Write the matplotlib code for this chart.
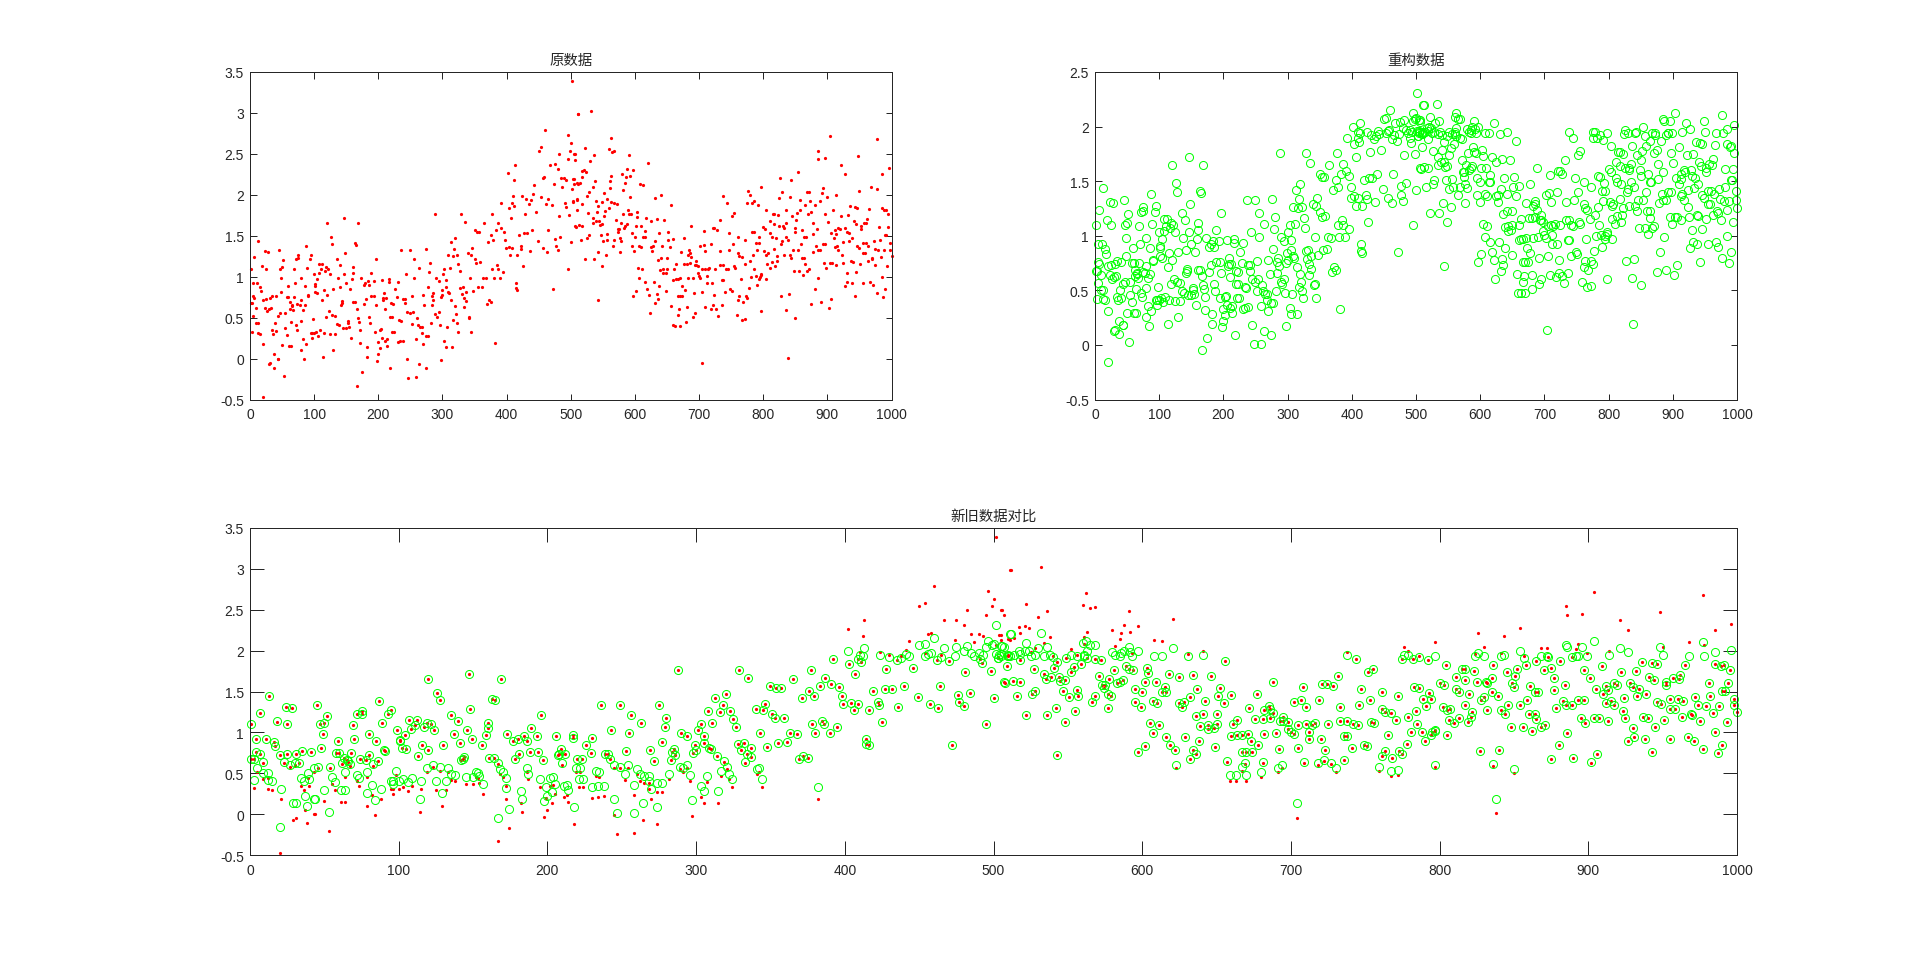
import matplotlib
matplotlib.use('Agg')
import matplotlib.pyplot as plt

plt.rcParams['font.family'] = ['Liberation Sans', 'Noto Sans CJK SC', 'DejaVu Sans']

# values, same order in all three lists
idx = [
1,1,3,3,4,4,7,5,9,12,
7,11,13,16,17,12,15,9,18,20,
20,21,24,25,28,23,25,27,29,31,
30,33,31,35,34,36,37,38,39,41,
40,43,44,43,46,45,47,48,49,50,
52,50,53,54,55,57,58,59,60,62,
61,64,63,65,66,64,67,68,69,70,
72,75,75,72,73,74,78,80,79,79,
80,82,83,84,85,86,87,88,89,90,
91,93,95,95,96,96,98,100,99,101,
101,103,104,102,106,105,107,108,109,111,
112,113,114,115,116,117,119,120,119,120,
122,123,125,124,126,128,128,129,130,132,
133,135,135,137,138,140,141,142,143,144,
146,147,148,149,145,150,152,153,154,156,
157,159,160,160,161,163,165,164,167,169,
167,168,170,172,172,174,173,177,178,180,
181,182,183,184,186,186,187,188,189,193,
194,195,196,197,198,199,200,202,203,204,
205,206,207,208,209,210,211,212,213,214,
218,217,217,219,220,222,221,223,224,226,
229,230,230,233,234,235,238,236,239,241,
242,243,245,247,245,249,249,252,254,253,
255,256,258,258,260,262,263,264,265,268,
269,268,270,272,274,275,274,277,277,279,
280,282,283,284,285,286,288,289,290,291,
294,294,296,297,298,299,300,301,303,303,
305,305,305,307,308,309,310,311,313,314,
315,316,317,318,320,319,321,322,323,325,
327,324,328,329,330,332,333,335,334,337,
337,340,341,342,343,344,345,346,348,350,
351,353,354,355,357,359,361,363,365,368,
369,371,372,375,376,377,378,379,380,383,
382,385,386,387,390,391,392,395,396,398,
399,402,403,404,406,407,409,409,410,411,
412,413,414,414,416,416,419,422,423,424,
425,427,428,430,432,435,436,438,441,443,
440,446,449,450,454,454,456,458,457,460,
462,463,464,467,465,470,472,474,475,476,
477,480,480,482,484,481,485,487,490,491,
492,493,495,495,496,499,498,500,500,502,
502,503,505,506,507,508,509,511,510,511,
512,532,562,560,565,568,522,536,530,505,
504,518,521,517,524,510,505,514,534,538,
528,525,552,561,563,561,580,585,586,592,
588,591,597,582,593,621,608,613,631,641,
656,503,510,518,527,540,549,556,559,563,
568,572,543,541,534,535,539,544,548,545,
554,552,571,581,578,589,591,594,585,583,
587,573,575,574,528,526,516,507,513,518,
547,556,557,551,568,577,579,566,595,600,
604,603,602,609,613,616,615,618,625,634,
646,637,652,651,660,642,632,625,628,627,
655,595,599,607,610,542,555,577,536,522,
548,543,605,611,597,602,607,616,619,622,
623,629,632,634,636,638,641,636,650,639,
644,650,644,648,649,657,661,664,660,664,
667,671,672,677,676,667,670,674,673,678,
681,669,667,659,663,670,680,682,682,685,
686,681,688,688,686,690,693,695,695,698,
698,700,702,704,692,691,694,702,707,708,
710,705,710,712,714,716,705,709,712,718,
720,722,723,727,730,719,721,724,728,732,
725,733,733,736,736,738,738,738,742,744,
741,746,745,747,749,751,752,753,755,754,
756,759,761,761,763,767,765,763,761,768,
771,772,773,775,772,767,778,776,779,775,
782,786,792,779,783,786,793,784,785,781,
788,790,791,789,794,795,794,797,797,797,
797,805,800,803,804,802,805,807,806,810,
813,811,811,815,817,813,820,817,819,821,
822,817,823,824,826,825,827,828,830,830,
831,835,832,832,835,836,836,838,839,840,
841,841,843,845,844,846,848,849,850,850,
851,854,852,854,856,857,858,859,860,861,
862,864,864,866,865,865,868,868,871,872,
870,875,873,875,877,877,881,878,880,883,
884,885,885,886,886,889,889,890,892,893,
893,895,896,897,897,898,899,901,902,904,
904,906,907,905,909,910,912,912,913,913,
914,915,917,917,919,921,922,923,924,925,
927,927,928,930,930,932,934,931,933,936,
937,939,940,938,941,943,944,943,945,946,
946,949,948,950,951,952,952,955,955,955,
958,957,960,961,962,963,964,965,968,967,
969,970,971,972,974,975,977,977,978,979,
981,982,984,985,985,985,987,988,989,990,
991,990,992,993,994,995,996,998,998,1000,
]

old_data = [
1.10,.68,.68,.32,.92,.76,.74,.52,.43,.44,
1.24,.92,1.44,.88,.83,.31,.30,.62,1.13,-.47,
.72,.18,1.31,1.10,1.30,.62,.73,.58,-.07,-.05,
.60,.62,.74,.77,.35,.30,.05,-.11,.44,.76,
.34,0,0,.52,.56,1.33,1.10,.81,.98,1.12,
1.20,.16,-.21,.56,.37,.29,.75,.89,.75,.61,
.15,.15,.69,.66,.64,.45,.59,.75,1.09,.92,
1.22,1.26,1.23,.41,.35,.67,.66,.72,.46,.10,
.98,.24,.59,-.01,.89,.65,1.38,.18,1.11,.78,
.77,1.22,1.27,.31,.31,.25,.48,.31,1.03,.89,
.91,.33,.97,.81,.28,.80,1.15,1.04,.35,1.09,
1.15,.71,.02,.31,.84,1.07,1.12,1.65,.51,.78,
1.10,.58,.30,1.03,1.48,1.40,.53,.10,.85,.30,
.52,.42,1.21,.98,.41,1.14,.87,.66,.68,.70,
1.03,1.72,1.29,.92,.37,.37,.46,.44,.38,.85,
.25,.97,1.12,1.05,.69,1.41,1.39,.69,.61,1.65,
-.33,.49,.45,.35,.19,-.17,.98,.90,.67,.92,
.73,.14,.02,.95,.90,.51,.43,.76,1.05,.95,
.76,.33,1.21,.66,-.03,.20,.05,.35,.13,.36,
.25,.96,.72,.74,.80,.60,.21,.74,.24,.15,
-.12,.97,.93,.51,.68,.51,.33,.67,.33,.85,
.75,.93,.20,.47,.21,.46,.22,1.33,.73,.73,
.68,1.03,-.01,-.24,.57,.56,1.33,.42,.57,.77,
.99,1.21,-.23,.24,.49,.41,1.11,-.07,.38,.38,
.78,.31,.18,.65,-.12,1.34,.27,.27,.88,1.06,
1.17,.43,.66,.76,.80,.72,1.76,.55,.99,.51,
.95,.57,.41,-.02,.75,.84,.78,1.03,1.10,.21,
.14,.96,.87,.39,1.26,.81,.80,1.11,1.42,.71,
.14,1.25,.47,1.34,1.47,.64,.55,.43,1.26,1.16,
1.07,.33,.86,1.76,.79,.87,.63,1.67,.74,.70,
.81,1.29,.49,.51,.99,.33,1.27,1.35,.82,1.57,
1.22,1.17,1.54,.87,1.54,1.18,.88,.99,1.65,.98,
.67,1.42,.71,.69,1.51,1.76,1.10,1.45,.99,1.57,
.19,1.14,1.10,1.66,.99,1.59,1.90,1.06,1.55,1.45,
1.35,2.27,1.84,1.36,1.27,1.72,1.35,1.90,1.98,1.86,
2.18,2.37,.86,.92,.84,1.27,1.51,1.37,1.34,1.98,
1.13,1.53,1.77,1.95,1.53,1.89,1.31,1.94,2.01,2.12,
1.57,1.79,1.43,2.54,2.58,1.97,2.20,2.22,1.35,2.79,
1.89,1.30,1.57,2.37,1.95,1.87,.85,2.13,2.38,1.46,
1.37,1.32,2.31,2.50,1.48,1.74,2.20,2.10,2.20,1.90,
1.85,2.18,2.44,1.10,2.73,2.54,1.75,2.63,1.42,3.39,
2.07,1.91,2.19,2.50,2.43,1.61,1.81,2.99,1.94,2.13,
2.99,3.02,2.70,2.56,2.52,2.53,2.57,2.49,2.41,2.50,
2.19,2.22,2.30,2.29,2.28,2.14,2.13,2.15,2.09,2.17,
2.03,1.98,2.02,2.08,2.23,2.17,2.25,2.14,2.22,2.23,
2.31,2.49,2.30,2.06,1.97,2.39,2.13,2.12,1.96,2.00,
1.87,1.92,1.95,1.89,1.78,1.93,1.91,1.95,1.84,1.91,
1.90,1.89,1.86,1.79,1.72,1.65,1.68,1.68,1.64,1.63,
1.80,1.74,1.69,1.76,1.65,1.81,1.77,1.76,1.62,1.60,
1.64,1.58,1.58,1.54,1.51,1.47,1.45,1.62,1.63,1.62,
1.51,1.52,1.45,1.43,1.45,1.47,1.44,1.37,1.53,1.49,
1.73,1.79,1.62,1.62,1.49,1.49,1.56,1.72,1.68,1.70,
1.69,1.53,1.54,1.45,1.46,1.38,1.43,1.36,1.37,1.31,
1.36,1.37,1.31,1.38,1.36,1.30,1.26,1.30,1.21,1.21,
1.13,.72,1.11,1.09,.76,.83,.99,.94,.85,.78,
.56,.94,.68,.79,.73,.89,1.23,1.20,1.23,1.08,
1.09,1.10,1.04,1.05,.82,.64,1.10,1.15,.96,.97,
.97,.98,1.30,1.47,1.16,.76,.76,.76,.89,.84,
.63,.61,.53,.41,.40,.40,.45,.98,1.27,1.32,
1.29,1.16,1.62,1.24,1.17,.99,1.14,1.19,1.14,1.13,
1.04,1.01,.98,-.05,.80,.51,.56,1.37,1.39,1.56,
1.31,1.09,1.10,1.01,1.09,1.11,.81,.63,.92,.60,
.92,.65,.78,.61,.52,1.40,1.59,1.59,1.57,1.69,
1.10,1.31,1.14,.66,.96,.96,1.14,1.98,1.10,1.90,
.81,1.33,1.09,1.53,.85,.83,1.74,1.40,1.78,1.13,
1.11,.53,1.49,1.29,1.25,1.24,.97,.77,.71,.69,
1.15,1.45,.77,.74,.48,.47,.86,2.05,2.00,1.90,
1.90,1.93,1.88,1.19,1.55,1.54,1.48,1.26,1.10,1.00,
1.01,.90,1.32,1.41,1.41,1.00,.97,1.03,1.02,.58,
2.10,.97,1.61,1.58,1.82,1.31,1.27,1.29,1.15,1.11,
1.18,1.53,1.68,1.77,1.77,1.49,1.47,1.64,1.13,1.19,
1.25,1.34,1.75,1.96,2.21,1.62,.77,1.40,2.04,1.43,
1.62,1.66,1.60,1.27,1.49,1.82,.59,.01,1.45,.79,
1.27,1.97,2.18,1.74,1.23,1.33,1.07,1.60,1.55,.50,
1.69,2.28,1.78,1.33,1.07,1.94,1.82,1.40,1.23,1.57,
1.02,1.49,1.23,1.49,1.16,1.87,2.03,1.07,1.09,2.03,
1.76,.67,1.92,1.79,1.52,1.66,1.87,1.30,.85,1.38,
1.58,1.33,2.54,2.44,.99,1.33,1.92,.69,2.02,2.08,
1.40,1.17,2.45,1.76,1.40,1.11,1.97,1.67,.62,1.17,
2.72,.73,1.17,1.53,1.81,1.47,1.57,1.36,1.52,1.14,
2.00,1.38,1.33,1.60,1.58,2.37,1.74,1.26,1.42,1.17,
.89,2.25,1.60,1.55,1.05,1.75,1.53,.94,1.44,1.86,
1.19,1.47,1.18,.92,1.68,.76,1.64,1.85,1.06,1.84,
1.37,1.35,2.47,2.05,1.15,1.58,1.62,1.41,1.29,.92,
1.29,1.66,1.41,1.65,1.70,1.19,1.38,1.83,2.10,.94,
1.23,1.21,.90,1.43,1.34,1.14,.80,2.68,2.07,1.32,
1.61,1.45,1.24,1.84,1.00,2.25,.75,1.32,1.81,1.51,
1.82,.85,1.51,1.13,1.61,1.76,2.33,1.41,1.33,1.25,
]

new_data = [
1.10,.68,.68,.42,.92,.76,.74,.57,.50,.50,
1.24,.92,1.44,.88,.83,.42,.41,.64,1.14,-.16,
.72,.31,1.31,1.10,1.30,.64,.73,.60,.13,.14,
.62,.63,.74,.77,.44,.41,.22,.10,.50,.76,
.43,.18,.18,.56,.58,1.33,1.10,.81,.98,1.12,
1.20,.29,.03,.58,.46,.39,.75,.89,.75,.63,
.29,.29,.69,.66,.65,.51,.61,.75,1.09,.92,
1.22,1.26,1.23,.48,.44,.67,.66,.72,.52,.26,
.98,.36,.61,.17,.89,.65,1.38,.31,1.11,.78,
.77,1.22,1.27,.41,.41,.37,.53,.41,1.03,.89,
.91,.43,.97,.81,.39,.80,1.15,1.04,.44,1.09,
1.15,.71,.19,.41,.84,1.07,1.12,1.65,.56,.78,
1.10,.60,.40,1.03,1.48,1.40,.58,.26,.85,.40,
.57,.49,1.21,.98,.48,1.14,.87,.66,.68,.70,
1.03,1.72,1.29,.92,.46,.46,.52,.50,.47,.85,
.37,.97,1.12,1.05,.69,1.41,1.39,.69,.63,1.65,
-.05,.55,.51,.44,.32,.06,.98,.90,.67,.92,
.73,.28,.19,.95,.90,.56,.49,.76,1.05,.95,
.76,.43,1.21,.66,.16,.33,.22,.44,.27,.45,
.37,.96,.72,.74,.80,.62,.34,.74,.36,.29,
.09,.97,.93,.56,.68,.56,.43,.67,.43,.85,
.75,.93,.33,.53,.34,.52,.35,1.33,.73,.73,
.68,1.03,.18,.01,.60,.58,1.33,.49,.60,.77,
.99,1.21,.01,.36,.55,.49,1.11,.13,.47,.47,
.78,.41,.31,.65,.09,1.34,.38,.38,.88,1.06,
1.17,.49,.66,.76,.80,.72,1.76,.58,.99,.56,
.95,.60,.48,.17,.75,.84,.78,1.03,1.10,.34,
.28,.96,.87,.47,1.26,.81,.80,1.11,1.42,.71,
.28,1.25,.53,1.34,1.47,.65,.58,.49,1.26,1.16,
1.07,.43,.86,1.76,.79,.87,.64,1.67,.74,.70,
.81,1.29,.55,.56,.99,.43,1.27,1.35,.82,1.57,
1.22,1.17,1.54,.87,1.54,1.18,.88,.99,1.65,.98,
.67,1.42,.71,.69,1.51,1.76,1.10,1.45,.99,1.57,
.33,1.14,1.10,1.66,.99,1.59,1.90,1.06,1.55,1.45,
1.35,2.00,1.84,1.36,1.27,1.72,1.35,1.90,1.95,1.86,
1.94,2.03,.86,.92,.84,1.27,1.51,1.37,1.34,1.95,
1.13,1.53,1.77,1.92,1.53,1.89,1.31,1.91,1.96,1.93,
1.57,1.79,1.43,2.07,2.08,1.94,1.96,1.97,1.35,2.15,
1.89,1.30,1.57,2.03,1.92,1.87,.85,1.93,2.04,1.46,
1.37,1.32,1.99,2.06,1.48,1.74,1.97,1.94,1.97,1.90,
1.85,1.95,2.05,1.10,2.12,2.07,1.75,2.08,1.42,2.31,
1.96,1.91,1.96,2.06,2.04,1.61,1.81,2.20,1.93,1.94,
2.20,2.21,2.12,2.09,2.07,2.07,2.09,2.05,2.03,2.06,
1.95,1.96,2.00,1.99,1.99,1.95,1.94,1.95,1.93,1.95,
1.95,1.94,1.95,1.93,1.99,1.95,1.98,1.94,1.97,1.98,
2.00,2.05,2.00,1.95,1.94,2.03,1.94,1.94,1.93,1.95,
1.87,1.91,1.93,1.89,1.78,1.92,1.91,1.93,1.84,1.91,
1.90,1.89,1.86,1.79,1.72,1.65,1.68,1.68,1.64,1.63,
1.80,1.74,1.69,1.76,1.65,1.81,1.77,1.76,1.62,1.60,
1.64,1.58,1.58,1.54,1.51,1.47,1.45,1.62,1.63,1.62,
1.51,1.52,1.45,1.43,1.45,1.47,1.44,1.37,1.53,1.49,
1.73,1.79,1.62,1.62,1.49,1.49,1.56,1.72,1.68,1.70,
1.69,1.53,1.54,1.45,1.46,1.38,1.43,1.36,1.37,1.31,
1.36,1.37,1.31,1.38,1.36,1.30,1.26,1.30,1.21,1.21,
1.13,.72,1.11,1.09,.76,.83,.99,.94,.85,.78,
.60,.94,.68,.79,.73,.89,1.23,1.20,1.23,1.08,
1.09,1.10,1.04,1.05,.82,.65,1.10,1.15,.96,.97,
.97,.98,1.30,1.47,1.16,.76,.76,.76,.89,.84,
.64,.63,.58,.48,.48,.48,.51,.98,1.27,1.32,
1.29,1.16,1.62,1.24,1.17,.99,1.14,1.19,1.14,1.13,
1.04,1.01,.98,.14,.80,.56,.60,1.37,1.39,1.56,
1.31,1.09,1.10,1.01,1.09,1.11,.81,.64,.92,.62,
.92,.66,.78,.63,.57,1.40,1.59,1.59,1.57,1.69,
1.10,1.31,1.14,.66,.96,.96,1.14,1.95,1.10,1.90,
.81,1.33,1.09,1.53,.85,.83,1.74,1.40,1.78,1.13,
1.11,.58,1.49,1.29,1.25,1.24,.97,.77,.71,.69,
1.15,1.45,.77,.74,.54,.53,.86,1.95,1.95,1.90,
1.90,1.92,1.88,1.19,1.55,1.54,1.48,1.26,1.10,1.00,
1.01,.90,1.32,1.41,1.41,1.00,.97,1.03,1.02,.60,
1.94,.97,1.61,1.58,1.82,1.31,1.27,1.29,1.15,1.11,
1.18,1.53,1.68,1.77,1.77,1.49,1.47,1.64,1.13,1.19,
1.25,1.34,1.75,1.93,1.97,1.62,.77,1.40,1.94,1.43,
1.62,1.66,1.60,1.27,1.49,1.82,.61,.19,1.45,.79,
1.27,1.94,1.95,1.74,1.23,1.33,1.07,1.60,1.55,.55,
1.69,2.00,1.78,1.33,1.07,1.91,1.82,1.40,1.23,1.57,
1.02,1.49,1.23,1.49,1.16,1.87,1.94,1.07,1.09,1.94,
1.76,.67,1.92,1.79,1.52,1.66,1.87,1.30,.85,1.38,
1.58,1.33,2.07,2.05,.99,1.33,1.92,.69,1.94,1.94,
1.40,1.17,2.05,1.76,1.40,1.11,1.94,1.67,.64,1.17,
2.12,.73,1.17,1.53,1.81,1.47,1.57,1.36,1.52,1.14,
1.95,1.38,1.33,1.60,1.58,2.03,1.74,1.26,1.42,1.17,
.89,1.98,1.60,1.55,1.05,1.75,1.53,.94,1.44,1.86,
1.19,1.47,1.18,.92,1.68,.76,1.64,1.85,1.06,1.84,
1.37,1.35,2.05,1.95,1.15,1.58,1.62,1.41,1.29,.92,
1.29,1.66,1.41,1.65,1.70,1.19,1.38,1.83,1.94,.94,
1.23,1.21,.90,1.43,1.34,1.14,.80,2.11,1.94,1.32,
1.61,1.45,1.24,1.84,1.00,1.98,.75,1.32,1.81,1.51,
1.82,.85,1.51,1.13,1.61,1.76,2.01,1.41,1.33,1.25,
]

x_ticks = [0, 100, 200, 300, 400, 500, 600, 700, 800, 900, 1000]
y_ticks_big = [-0.5, 0, 0.5, 1, 1.5, 2, 2.5, 3, 3.5]
y_labels_big = ['-0.5', '0', '0.5', '1', '1.5', '2', '2.5', '3', '3.5']
y_ticks_small = [-0.5, 0, 0.5, 1, 1.5, 2, 2.5]
y_labels_small = ['-0.5', '0', '0.5', '1', '1.5', '2', '2.5']

W = 1920
H = 962
dark = '#262626'
lime = '#00ff00'


def make_ax(left, right, top, bottom, title, yt, yl, tick_px):
    ax = fig.add_axes([left / W, 1 - bottom / H, (right - left) / W, (bottom - top) / H])
    ax.set_xlim(0, 1000)
    ax.set_ylim(yt[0], yt[-1])
    ax.set_xticks(x_ticks)
    ax.set_yticks(yt)
    ax.set_yticklabels(yl)
    ax.tick_params(direction='in', top=True, right=True, length=tick_px * 0.72,
                   width=0.72, color=dark, labelcolor=dark, labelsize=10)
    ax.tick_params(axis='x', pad=5.5)
    ax.tick_params(axis='y', pad=4.5)
    for s in ax.spines.values():
        s.set_linewidth(0.72)
        s.set_color(dark)
    ax.set_title(title, fontsize=10.4, color=dark, pad=6)
    return ax


def red_dots(ax):
    ax.plot(idx, old_data, ls='none', marker='o', ms=2.3, mfc='#ff0000', mec='none', clip_on=False)


def green_rings(ax):
    ax.plot(idx, new_data, ls='none', marker='o', ms=5.8, mfc='none', mec=lime, mew=0.72, clip_on=False)


fig = plt.figure(figsize=(W / 100, H / 100), dpi=100)

ax1 = make_ax(250, 891.5, 73, 400.5, '原数据', y_ticks_big, y_labels_big, 6.5)
red_dots(ax1)

ax2 = make_ax(1095, 1737, 73, 400.5, '重构数据', y_ticks_small, y_labels_small, 6.5)
green_rings(ax2)

ax3 = make_ax(250, 1737, 529, 856, '新旧数据对比', y_ticks_big, y_labels_big, 14)
red_dots(ax3)
green_rings(ax3)

fig.savefig('out.png', dpi=100, facecolor='white')
